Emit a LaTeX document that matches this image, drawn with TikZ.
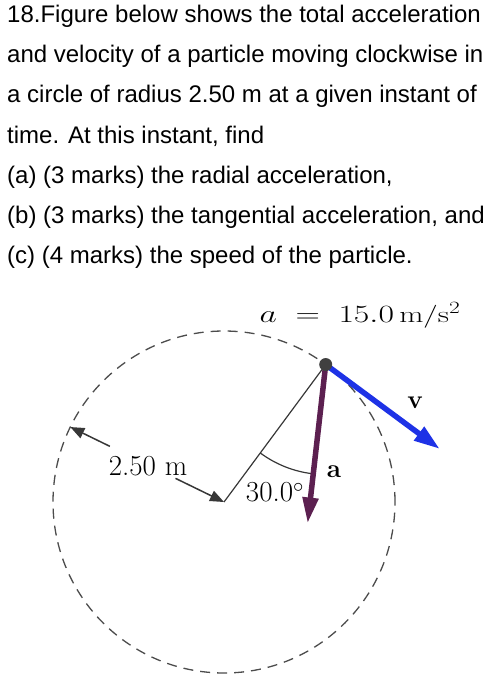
\documentclass[tikz,border=0pt]{standalone}
\usepackage{fontspec}
\usepackage{graphicx}
\newfontfamily\qfont{Liberation Sans}
\usetikzlibrary{arrows.meta,positioning,calc}

\begin{document}
\begin{tikzpicture}[x=1bp,y=1bp,
    qline/.style={anchor=base west,inner sep=0pt,font=\qfont\fontsize{24bp}{28bp}\selectfont},
    lbl/.style={inner sep=0pt,font=\fontsize{29bp}{32bp}\selectfont},
    vlbl/.style={inner sep=0pt,font=\fontsize{26bp}{30bp}\selectfont\bfseries},
    dimarrow/.style={-{Triangle[length=14bp,width=11bp]},line width=1.5bp,dimcol},
    accarrow/.style={-{Triangle[length=26bp,width=15bp]},line width=5.5bp,acol},
    velarrow/.style={-{Triangle[length=26bp,width=16bp]},line width=5.5bp,vcol}]
    \definecolor{acol}{RGB}{92,32,80}
    \definecolor{vcol}{RGB}{30,50,230}
    \definecolor{dimcol}{RGB}{55,55,55}
    \colorlet{circcol}{black!70}

    \useasboundingbox (0,0) rectangle (497,-678);

    % question text
    \node[qline] (q1) at (7,-23) {18.Figure below shows the total acceleration};
    \node[qline] (q2) at (7,-63) {and velocity of a particle moving clockwise in};
    \node[qline] (q3) at (7,-103) {a circle of radius 2.50 m at a given instant of};
    \node[qline] (q4) at (7,-143) {time. At this instant, find};
    \node[qline] (q5) at (7,-183) {(a) (3 marks) the radial acceleration,};
    \node[qline] (q6) at (7,-223) {(b) (3 marks) the tangential acceleration, and};
    \node[qline] (q7) at (7,-263) {(c) (4 marks) the speed of the particle.};

    % circle and particle
    \coordinate (O) at (224,-502);
    \draw[circcol, line width=1.3bp, dash pattern=on 10bp off 7bp] (O) circle (171);
    \coordinate (P) at ($(O)+(53.5:171)$);

    % radius dimension
    \coordinate (R) at ($(O)+(154:171)$);
    \coordinate (Rt) at ($(O)+(154:127)$);
    \coordinate (Rs) at ($(O)+(154:54)$);
    \node[lbl] (rlab) at (148,-466) {2.50 m};
    \draw[dimarrow] (Rt) -- (R);
    \draw[dimarrow] (Rs) -- (O);

    % radial line and angle
    \draw[dimcol, line width=1.2bp] (O) -- (P);
    \draw[dimcol, line width=1.2bp] (P) ++(233.5:110) arc (233.5:263.5:110);
    \node[lbl] (ang) at (275,-492) {30.0$^\circ$};

    % vectors
    \coordinate (A) at ($(P)+(263.5:160)$);
    \coordinate (V) at ($(P)+(-36.5:142)$);
    \draw[accarrow] (P) -- (A);
    \draw[velarrow] (P) -- (V);
    \fill[black!75] (P) circle (6.5);

    \node[vlbl] (alab) at (334,-472) {a};
    \node[vlbl] (vlab) at (415,-403) {v};
    \node[inner sep=0pt,font=\fontsize{23bp}{26bp}\selectfont] (amag) at (360,-315)
        {\scalebox{1.36}[1]{$a\;=\;15.0$\,m/s$^2$}};

\end{tikzpicture}
\end{document}
